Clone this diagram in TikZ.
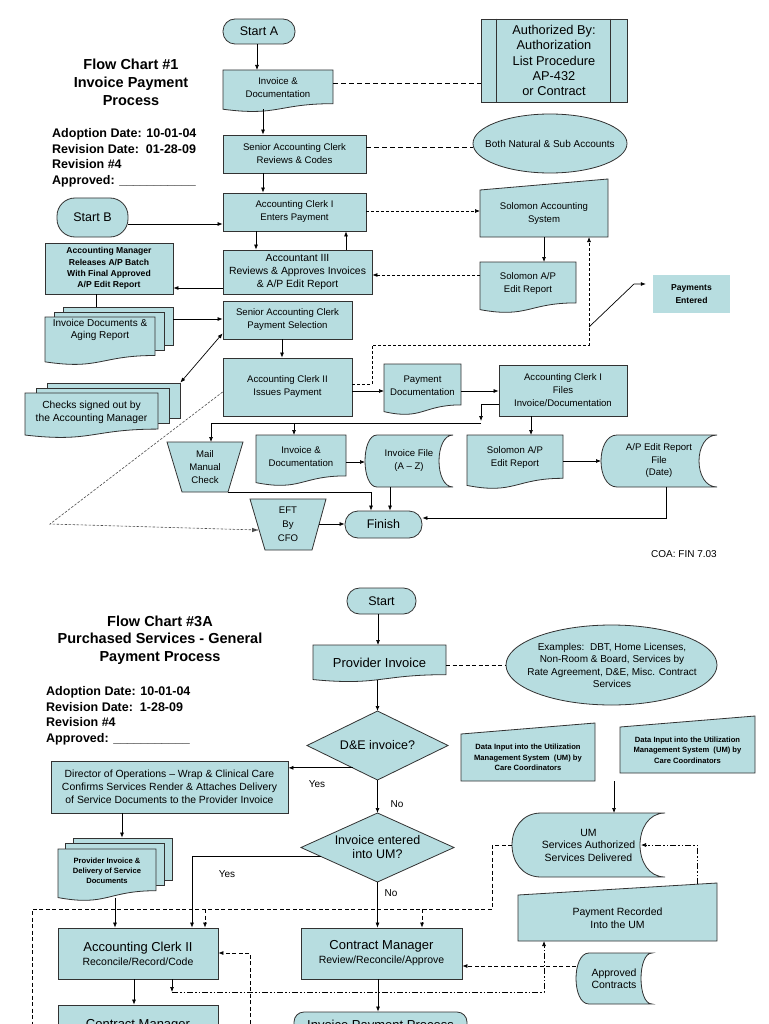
\documentclass[tikz,border=0pt]{standalone}
\usepackage{fontspec}
\setmainfont{Liberation Sans}
\usetikzlibrary{arrows.meta,calc}
\definecolor{fc}{RGB}{183,221,224}
\definecolor{lc}{RGB}{50,50,50}
\newcommand\fsz[2]{\fontsize{#1}{#2}\selectfont}
% invisible named node covering a bounding box
\newcommand\GH[5]{\node[ghost,minimum width={(#4-#2)*1pt},minimum height={(#5-#3)*1pt}] (#1) at ({(#2+#4)/2},{(#3+#5)/2}) {};}
% rectangle box
\newcommand\RB[7][]{\node[box,minimum width={(#5-#3)*1pt},minimum height={(#6-#4)*1pt},#1] (#2) at ({(#3+#5)/2},{(#4+#6)/2}) {#7};}
% document shape: [opts] name x1 top x2 h text
\newcommand\DOC[7][]{%
 \path[shp] (#3,#4) -- (#5,#4) -- (#5,{#4+0.802*#6}) .. controls ({(#3+#5)/2},{#4+0.802*#6}) and ({(#3+#5)/2},{#4+1.107*#6}) .. (#3,{#4+0.934*#6}) -- cycle;
 \GH{#2}{#3}{#4}{#5}{#4+0.933*#6}
 \node[txt,#1] (#2t) at ({(#3+#5)/2},{#4+0.42*#6}) {#7};}
% stored data: [opts] name x1 y1 x2 y2 rl rr text
\newcommand\STO[9][]{%
 \path[shp] ({#3+#7},#4) -- (#5,#4) .. controls ({#5-1.333*#8},#4) and ({#5-1.333*#8},#6) .. (#5,#6) -- ({#3+#7},#6) .. controls ({#3-0.333*#7},#6) and ({#3-0.333*#7},#4) .. ({#3+#7},#4) -- cycle;
 \GH{#2}{#3}{#4}{#5}{#6}
 \node[txt,#1] (#2t) at ({(#3+#5)/2},{(#4+#6)/2}) {#9};}
% manual input: [opts] name x1 yTL x2 yTR yb text
\newcommand\MI[8][]{%
 \path[shp] (#3,#4) -- (#5,#6) -- (#5,#7) -- (#3,#7) -- cycle;
 \GH{#2}{#3}{#6}{#5}{#7}
 \node[txt,#1] (#2t) at ({(#3+#5)/2},{(#4+#7)/2}) {#8};}
% manual operation: [opts] name x1 x2 top x1b x2b bottom text
\newcommand\MO[9][]{%
 \path[shp] (#3,#5) -- (#4,#5) -- (#7,#8) -- (#6,#8) -- cycle;
 \GH{#2}{#3}{#5}{#4}{#8}
 \node[txt,#1] (#2t) at ({(#3+#4)/2},{(#5+#8)/2}) {#9};}
% diamond: [opts] name cx cy w h text
\newcommand\DIA[7][]{%
 \path[shp] ({#3-#5/2},#4) -- (#3,{#4-#6/2}) -- ({#3+#5/2},#4) -- (#3,{#4+#6/2}) -- cycle;
 \node[ghost,minimum width={#5*1pt},minimum height={#6*1pt}] (#2) at (#3,#4) {};
 \node[txt,#1] (#2t) at (#3,#4) {#7};}

\begin{document}
\begin{tikzpicture}[x=1pt,y=-1pt,
  ghost/.style={inner sep=0pt,outer sep=0pt},
  box/.style={draw=lc,fill=fc,line width=0.8pt,inner sep=0pt,align=center},
  shp/.style={draw=lc,fill=fc,line width=0.8pt},
  txt/.style={inner sep=0pt,align=center},
  ln/.style={line width=0.7pt,black},
  arr/.style={ln,-{Latex[length=5pt,width=4pt]}},
  darr/.style={ln,{Latex[length=5pt,width=4pt]}-{Latex[length=5pt,width=4pt]}},
  dashA/.style={dash pattern=on 5pt off 3pt},
  dashB/.style={dash pattern=on 3pt off 2pt},
  dashC/.style={dash pattern=on 4pt off 2.5pt},
  dashD/.style={dash pattern=on 6pt off 2pt on 1.5pt off 2pt on 1.5pt off 2pt},
  dotg/.style={line width=0.6pt,black!70,dash pattern=on 2.5pt off 1.5pt},
  lab/.style={inner sep=0pt,font=\fsz{10}{12}}]
\useasboundingbox (0,0) rectangle (768,1024);
\clip (0,0) rectangle (768,1024);
\fill[white] (0,0) rectangle (768,1024);

%================ FLOW CHART 1 =================
\node[txt,font=\bfseries\fsz{14.5}{18}] (t1) at (131,82) {Flow Chart \#1\\Invoice Payment\\Process};
\node[txt,anchor=west,align=left,font=\bfseries\fsz{12.5}{15.5}] (m1) at (52,158) {Adoption Date: 10-01-04\\Revision Date:\ \ 01-28-09\\Revision \#4\\Approved: \_\_\_\_\_\_\_\_\_\_\_};

\RB[rounded corners=12pt,font=\fsz{12.5}{15}]{startA}{223}{19}{295}{44}{Start A}
\DOC[font=\fsz{9.6}{13}]{inv1}{223}{70}{333}{42}{Invoice \&\\Documentation}
\RB[font=\fsz{12.8}{15.3}]{auth}{481}{19}{627}{102}{Authorized By:\\Authorization\\List Procedure\\AP-432\\or Contract}
\draw[lc,line width=0.8pt] ([xshift=16pt]auth.north west) -- ([xshift=16pt]auth.south west)
  ([xshift=-17pt]auth.north east) -- ([xshift=-17pt]auth.south east);
\RB[font=\fsz{9.6}{13}]{sac}{223}{135}{366}{173}{Senior Accounting Clerk\\Reviews \& Codes}
\path[shp] (550,143.5) ellipse [x radius=77pt,y radius=29.5pt];
\GH{both}{473}{114}{627}{173}
\node[txt,font=\fsz{10}{12}] (botht) at (550,144) {Both Natural \& Sub Accounts};
\RB[font=\fsz{9.6}{13}]{ac1}{223}{193}{366}{231}{Accounting Clerk I\\Enters Payment}
\RB[rounded corners=18pt,font=\fsz{12.5}{15}]{startB}{57}{198}{128}{237}{Start B}
\MI[font=\fsz{9.6}{13}]{sol}{480}{190}{608}{179}{237}{Solomon Accounting\\System}
\DOC[font=\fsz{9.6}{13}]{solap1}{480}{262}{576}{51}{Solomon A/P\\Edit Report}
\RB[font=\fsz{10.4}{13}]{ac3}{223}{250}{372}{294}{Accountant III\\Reviews \& Approves Invoices\\\& A/P Edit Report}
\RB[font=\bfseries\fsz{8.6}{11.3}]{acm}{45}{243}{173}{294}{Accounting Manager\\Releases A/P Batch\\With Final Approved\\A/P Edit Report}
\RB{invdB}{63}{307}{173}{345}{}
\RB{invdM}{54}{312}{164}{350}{}
\DOC[font=\fsz{10}{12.5},yshift=7pt]{invd}{45}{317}{155}{48}{Invoice Documents \&\\Aging Report}
\RB[font=\fsz{9.6}{13}]{spsel}{223}{301}{352}{339}{Senior Accounting Clerk\\Payment Selection}
\RB[font=\fsz{9.6}{13}]{ac2}{223}{358}{352}{416}{Accounting Clerk II\\Issues Payment}
\RB{chkB}{47}{383}{180}{418}{}
\RB{chkM}{36}{388}{169}{423}{}
\DOC[font=\fsz{10.3}{13}]{chk}{25}{393}{158}{45}{Checks signed out by\\the Accounting Manager}
\DOC[font=\fsz{9.6}{13}]{paydoc}{384}{364}{461}{51}{Payment\\Documentation}
\RB[font=\fsz{9.6}{13}]{ac1f}{499}{365}{627}{416}{Accounting Clerk I\\Files\\Invoice/Documentation}
\MO[font=\fsz{9.6}{13}]{mail}{167}{243}{442}{182}{228}{492}{Mail\\Manual\\Check}
\DOC[font=\fsz{9.6}{13}]{inv2}{256}{435}{346}{51}{Invoice \&\\Documentation}
\STO[font=\fsz{9.6}{13}]{invf}{365}{435}{453}{487}{12}{14}{Invoice File\\(A – Z)}
\DOC[font=\fsz{9.6}{13}]{solap2}{467}{435}{563}{54}{Solomon A/P\\Edit Report}
\STO[font=\fsz{9.6}{12.5}]{apf}{601}{435}{717}{487}{16}{18}{A/P Edit Report\\File\\(Date)}
\RB[rounded corners=13pt,font=\fsz{12.5}{15}]{fin}{345}{511}{422}{538}{Finish}
\MO[font=\fsz{9.6}{14}]{eft}{250}{326}{499}{265}{312}{550}{EFT\\By\\CFO}
\node[fill=fc,minimum width=77pt,minimum height=38pt,inner sep=0pt,align=center,font=\bfseries\fsz{8.6}{13}] (payent) at (691.5,294) {Payments\\Entered};
\node[txt,anchor=east,font=\fsz{10}{12}] (coa) at (717,554) {COA: FIN 7.03};

% connectors chart 1
\draw[arr] (startA.south -| 257,0) -- (inv1.north -| 257,0);
\draw[arr] (inv1.south -| 263,0) -- (sac.north -| 263,0);
\draw[arr] (sac.south -| 263,0) -- (ac1.north -| 263,0);
\draw[ln,dashA] (inv1.east |- 0,83) -- (auth.west |- 0,83);
\draw[ln,dashA] (sac.east |- 0,147) -- (both.west |- 0,147);
\draw[arr] (startB.east |- 0,224) -- (ac1.west |- 0,224);
\draw[arr,dashB] (ac1.east |- 0,211) -- (sol.west |- 0,211);
\draw[arr] (sol.south -| 544,0) -- (solap1.north -| 544,0);
\draw[arr,dashB] (solap1.west |- 0,275) -- (ac3.east |- 0,275);
\draw[arr] (ac1.south -| 256,0) -- (ac3.north -| 256,0);
\draw[arr] (ac3.north -| 346,0) -- (ac1.south -| 346,0);
\draw[arr] (ac3.west |- 0,288) -- (acm.east |- 0,288);
\draw[ln] (acm.south -| 96,0) -- (invdB.north -| 96,0);
\draw[arr] (invdB.east |- 0,319) -- (spsel.west |- 0,319);
\draw[darr] ([yshift=6pt]spsel.south west) -- (chkB.north east);
\draw[arr] (spsel.south -| 282,0) -- (ac2.north -| 282,0);
\coordinate (d1) at (50,524);
\coordinate (eftin) at (258,530);
\draw[dotg] (ac2.west |- 0,392) -- (d1) -- (eftin);
\fill[black!70] (eftin) -- ++(-6,-2.2) -- ++(0,4.4) -- cycle;
\draw[arr] (ac2.east |- 0,391) -- (paydoc.west |- 0,391);
\draw[arr] (paydoc.east |- 0,391) -- (ac1f.west |- 0,391);
\draw[arr,dashB] (ac2.east |- 0,384) -- (372,384) -- (372,345) -- (589,345) -- (sol.south -| 589,0);
\coordinate (pe0) at (589,327);
\draw[arr,shorten >=7pt] (pe0) -- (634,284) -- (payent.west |- 0,284);
\draw[arr] (ac1f.west |- 0,404) -- (481,404) -- (481,421);
\coordinate (h1) at (481,423);
\draw[arr] (h1) -- (211,423) -- (mail.north -| 211,0);
\draw[arr] (294,423) -- (inv2.north -| 294,0);
\draw[arr] (ac1f.south -| 531,0) -- (solap2.north -| 531,0);
\draw[arr] (inv2.east |- 0,462) -- (invf.west |- 0,462);
\draw[arr] (solap2.east |- 0,461) -- (apf.west |- 0,461);
\draw[arr] (mail.south -| 228,0) -- (371,492) -- (fin.north -| 371,0);
\draw[arr] (invf.south -| 390,0) -- (fin.north -| 390,0);
\draw[arr] (apf.south -| 666,0) -- (666,518) -- (fin.east |- 0,518);
\coordinate (eftout) at (319,524);
\draw[arr] (eftout) -- (fin.west |- 0,524);

%================ FLOW CHART 3A =================
\node[txt,font=\bfseries\fsz{14.5}{17.5}] (t3) at (160,640) {Flow Chart \#3A\\Purchased Services - General\\Payment Process};
\node[txt,anchor=west,align=left,font=\bfseries\fsz{12.5}{15.5}] (m3) at (46,716) {Adoption Date: 10-01-04\\Revision Date:\ \ 1-28-09\\Revision \#4\\Approved: \_\_\_\_\_\_\_\_\_\_\_};

\RB[rounded corners=12.5pt,font=\fsz{12.5}{15}]{st3}{347}{588}{416}{614}{Start}
\DOC[font=\fsz{13}{15},yshift=-2.5pt]{prov}{313}{645}{446}{37}{Provider Invoice}
\path[shp] (611.5,665) ellipse [x radius=105.5pt,y radius=40pt];
\GH{ex}{506}{625}{717}{705}
\node[txt,font=\fsz{10}{12.4}] (ext) at (612,665.5) {Examples:\ \ DBT, Home Licenses,\\Non-Room \& Board, Services by\\Rate Agreement, D\&E, Misc. Contract\\Services};
\DIA[font=\fsz{12.5}{15}]{de}{377.5}{745.5}{141}{69}{D\&E invoice?}
\RB[font=\fsz{10.4}{13}]{dir}{51}{761}{288}{813}{Director of Operations – Wrap \& Clinical Care\\Confirms Services Render \& Attaches Delivery\\of Service Documents to the Provider Invoice}
\DIA[font=\fsz{12.5}{14}]{ie}{377.5}{847.5}{153}{69}{Invoice entered\\into UM?}
\RB{pvB}{73}{838}{172}{880}{}
\RB{pvM}{65}{843}{164}{885}{}
\DOC[font=\bfseries\fsz{7.6}{10}]{pv}{58}{849}{156}{52}{Provider Invoice \&\\Delivery of Service\\Documents}
\RB[font=\fsz{13}{14}]{ac2b}{58}{928}{218}{979}{Accounting Clerk II\\{\fsz{10.5}{14}Reconcile/Record/Code}}
\RB[font=\fsz{13}{14}]{cm}{301}{928}{462}{979}{Contract Manager\\{\fsz{10.5}{14}Review/Reconcile/Approve}}
\RB{cm2}{58}{1005}{218}{1060}{}
\node[txt,anchor=base,font=\fsz{13}{14}] (cm2t) at (138,1028) {Contract Manager};
\RB[rounded corners=10pt]{ipp}{294}{1012}{467}{1060}{}
\node[txt,anchor=base,font=\fsz{13}{14}] (ippt) at (380.5,1029) {Invoice Payment Process};
\MI[font=\bfseries\fsz{7.6}{10.3}]{di1}{461}{734}{595}{723}{781}{Data Input into the Utilization\\Management System\ \ (UM) by\\Care Coordinators}
\MI[font=\bfseries\fsz{7.6}{10.3}]{di2}{620}{727}{755}{716}{773}{Data Input into the Utilization\\Management System\ \ (UM) by\\Care Coordinators}
\STO[font=\fsz{10.5}{12.5}]{um}{512}{813}{665}{877}{29}{25}{UM\\Services Authorized\\Services Delivered}
\MI[font=\fsz{10.5}{12.5}]{payrec}{518}{895}{717}{883}{941}{Payment Recorded\\Into the UM}
\STO[font=\fsz{10.5}{12.5}]{appc}{576}{953}{652}{1004}{13}{11}{Approved\\Contracts}

% connectors chart 3A
\draw[arr] (st3.south -| 378,0) -- (prov.north -| 378,0);
\draw[arr] (prov.south -| de.north) -- (de.north);
\draw[ln,dashC] (prov.east |- 0,665) -- (ex.west |- 0,665);
\coordinate (deY) at ($(de.west)!0.647!(de.south)$);
\draw[arr] (deY) -- (dir.east |- deY);
\node[lab] (yes1) at (317,784) {Yes};
\draw[arr] (de.south) -- (ie.north);
\node[lab] (no1) at (397,804) {No};
\coordinate (ieY) at ($(ie.west)!0.265!(ie.south)$);
\draw[arr] (ieY) -- (ieY -| 192,0) -- (ac2b.north -| 192,0);
\node[lab] (yes2) at (227,874) {Yes};
\draw[arr] (ie.south) -- (cm.north -| ie.south);
\node[lab] (no2) at (391,893) {No};
\draw[arr] (dir.south -| 122,0) -- (pvB.north -| 122,0);
\draw[arr] (pv.south -| 115,0) -- (ac2b.north -| 115,0);
\draw[arr] (ac2b.south -| 134,0) -- (cm2.north -| 134,0);
\draw[arr] (cm.south -| 378,0) -- (ipp.north -| 378,0);
\draw[ln,dashC] (um.west |- 0,845) -- (492,845) -- (492,909) -- (32,909) -- (32,1030);
\draw[arr,dashC] (205,909) -- (ac2b.north -| 205,0);
\draw[arr,dashC] (422,909) -- (cm.north -| 422,0);
\draw[arr] (ac2b.south -| 172,0) -- (172,992);
\draw[arr,dashD] (172,992) -- (544,992) -- (payrec.south -| 544,0);
\coordinate (pr0) at (697,884);
\coordinate (umin) at (641,845);
\draw[arr,dashD] (pr0) -- (697,845) -- (umin);
\draw[arr,dashC] (appc.west |- 0,966) -- (cm.east |- 0,966);
\draw[arr,dashC] (250,1030) -- (250,953) -- (ac2b.east |- 0,953);
\coordinate (dn0) at (614,781);
\draw[arr] (dn0) -- (um.north -| 614,0);
\end{tikzpicture}
\end{document}
